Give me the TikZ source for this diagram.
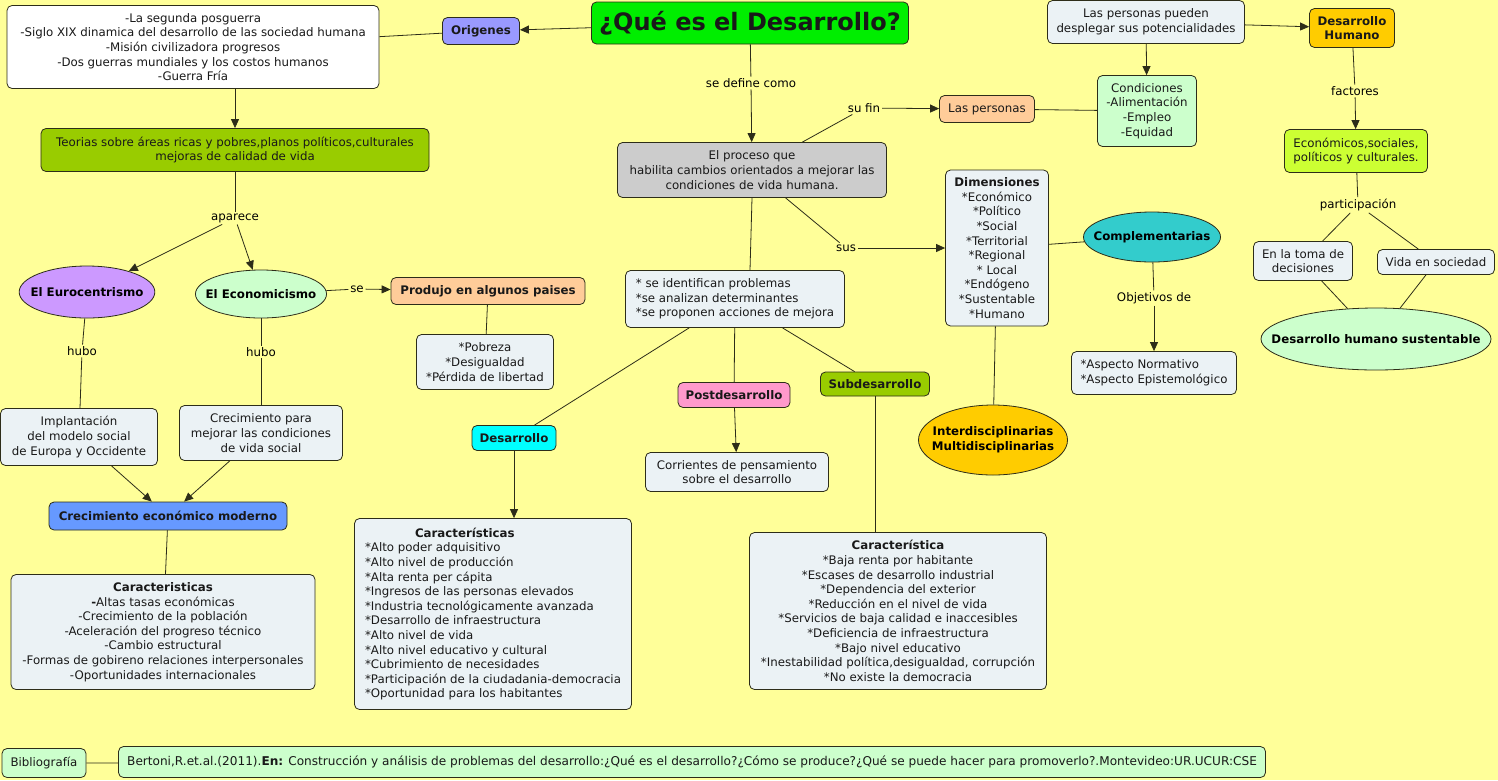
\documentclass[tikz,border=0pt]{standalone}
\usepackage{fontspec}
\setmainfont{DejaVu Sans}
\usetikzlibrary{arrows.meta,shapes.geometric}

\definecolor{fondo}{RGB}{255,255,153}
\definecolor{linea}{RGB}{45,45,25}
\definecolor{palido}{RGB}{235,242,245}
\definecolor{verdetit}{RGB}{0,238,0}
\definecolor{lavanda}{RGB}{153,153,255}
\definecolor{oliva}{RGB}{153,204,0}
\definecolor{lila}{RGB}{204,153,255}
\definecolor{menta}{RGB}{204,255,204}
\definecolor{durazno}{RGB}{255,204,153}
\definecolor{azulrey}{RGB}{102,153,255}
\definecolor{gris}{RGB}{204,204,204}
\definecolor{oro}{RGB}{255,204,0}
\definecolor{lima}{RGB}{204,255,51}
\definecolor{turquesa}{RGB}{51,204,204}
\definecolor{celeste}{RGB}{0,255,255}
\definecolor{rosa}{RGB}{255,153,204}

\newcommand{\txt}{\fontsize{11.8}{14.6}\selectfont}

\begin{document}
\begin{tikzpicture}[x=1pt,y=-1pt,
  >={Triangle[length=9pt,width=8pt]},
  box/.style={draw,rounded corners=5pt,fill=palido,align=center,inner sep=0pt,
    font=\txt,text=black!90},
  hd/.style={box,font=\txt\bfseries},
  oval/.style={ellipse,draw,inner ysep=0pt,font=\txt\bfseries},
  lbl/.style={font=\txt,inner sep=1.5pt},
  dims/.style 2 args={minimum width=#1pt,minimum height=#2pt},
  every path/.style={draw=linea,line width=0.8pt}]
\fill[fondo,draw=none] (0,0) rectangle (1498,780);
\path[use as bounding box,draw=none] (0,0) rectangle (1498,780);

% centro
\node[box,dims={317}{42},fill=verdetit,font=\fontsize{24}{28}\selectfont\bfseries]
  (titulo) at (750,23) {¿Qué es el Desarrollo?};
\node[lbl] (sedef) at (751,83) {se define como};
\node[box,dims={269}{55},fill=gris] (proceso) at (752,170)
  {El proceso que\\habilita cambios orientados a mejorar las\\condiciones de vida humana.};
\node[lbl] (sufin) at (864,108) {su fin};
\node[box,dims={95}{27},fill=durazno] (personas) at (987,109) {Las personas};
\node[box,dims={197}{43}] (pueden) at (1146,22)
  {Las personas pueden\\desplegar sus potencialidades};
\node[box,dims={99}{71},fill=menta] (condic) at (1147,111)
  {Condiciones\\-Alimentación\\-Empleo\\-Equidad};
\node[lbl] (sus) at (846,248) {sus};
\node[box,dims={103}{156}] (dim) at (997,248)
  {\textbf{Dimensiones}\\*Económico\\*Político\\*Social\\*Territorial\\*Regional\\* Local\\*Endógeno\\*Sustentable\\*Humano};
\node[oval,dims={137}{50},inner xsep=-10.5pt,fill=turquesa] (compl) at (1152,237) {Complementarias};
\node[lbl] (objet) at (1154,298) {Objetivos de};
\node[box,dims={165}{43},align=left] (aspecto) at (1154,373)
  {*Aspecto Normativo\\*Aspecto Epistemológico};
\node[oval,dims={149}{70},inner xsep=-8.5pt,fill=oro,align=center] (interd) at (993,440)
  {Interdisciplinarias\\Multidisciplinarias};
\node[box,dims={219}{57},align=left] (ident) at (735,299)
  {* se identifican problemas\\*se analizan determinantes\\*se proponen acciones de mejora};
\node[hd,dims={84}{25},fill=celeste] (desa) at (514,438) {Desarrollo};
\node[hd,dims={112}{25},fill=rosa] (post) at (734,395) {Postdesarrollo};
\node[hd,dims={109}{24},fill=oliva] (sub) at (875,384) {Subdesarrollo};
\node[box,dims={183}{39}] (corr) at (737,472)
  {Corrientes de pensamiento\\sobre el desarrollo};
\node[box,dims={277}{191},align=left] (carD) at (493,614)
  {\hspace*{50pt}\textbf{Características}\\*Alto poder adquisitivo\\*Alto nivel de producción\\*Alta renta per cápita\\*Ingresos de las personas elevados\\*Industria tecnológicamente avanzada\\*Desarrollo de infraestructura\\*Alto nivel de vida\\*Alto nivel educativo y cultural\\*Cubrimiento de necesidades\\*Participación de la ciudadania-democracia\\*Oportunidad para los habitantes};
\node[box,dims={297}{157}] (carS) at (898,611)
  {\textbf{Característica}\\*Baja renta por habitante\\*Escases de desarrollo industrial\\*Dependencia del exterior\\*Reducción en el nivel de vida\\*Servicios de baja calidad e inaccesibles\\*Deficiencia de infraestructura\\*Bajo nivel educativo\\*Inestabilidad política,desigualdad, corrupción\\*No existe la democracia};

% derecha
\node[hd,dims={85}{39},fill=oro] (dh) at (1352,28) {Desarrollo\\Humano};
\node[lbl] (factores) at (1355,91) {factores};
\node[box,dims={143}{43},fill=lima] (econs) at (1356,151)
  {Económicos,sociales,\\políticos y culturales.};
\node[lbl] (particip) at (1358,205) {participación};
\node[box,dims={99}{39}] (toma) at (1303,261) {En la toma de\\decisiones};
\node[box,dims={117}{25}] (vida) at (1436,262) {Vida en sociedad};
\node[oval,dims={230}{62},inner xsep=-23.5pt,fill=menta] (dhs) at (1376,339) {Desarrollo humano sustentable};

% izquierda
\node[hd,dims={77}{27},fill=lavanda] (origenes) at (481,31) {Origenes};
\node[box,dims={372}{83},fill=white] (origlist) at (193,47)
  {-La segunda posguerra\\-Siglo XIX dinamica del desarrollo de las sociedad humana\\-Misión civilizadora progresos\\-Dos guerras mundiales y los costos humanos\\-Guerra Fría};
\node[box,dims={388}{43},fill=oliva] (teorias) at (235,150)
  {Teorias sobre áreas ricas y pobres,planos políticos,culturales\\mejoras de calidad de vida};
\node[lbl] (aparece) at (235,218) {aparece};
\node[oval,dims={134}{52},inner xsep=-8.5pt,fill=lila] (euro) at (87,292) {El Eurocentrismo};
\node[oval,dims={130}{48},inner xsep=-9pt,fill=menta] (econ) at (261,294) {El Economicismo};
\node[lbl] (se) at (357,289) {se};
\node[hd,dims={194}{27},fill=durazno] (produjo) at (488,291) {Produjo en algunos paises};
\node[box,dims={137}{55}] (pobreza) at (485,362)
  {*Pobreza\\*Desigualdad\\*Pérdida de libertad};
\node[lbl] (hubo1) at (82,351) {hubo};
\node[lbl] (hubo2) at (261,352) {hubo};
\node[box,dims={157}{57}] (implant) at (79,437)
  {Implantación\\del modelo social\\de Europa y Occidente};
\node[box,dims={163}{55}] (crecpara) at (261,433)
  {Crecimiento para\\mejorar las condiciones\\de vida social};
\node[hd,dims={238}{28},fill=azulrey] (cem) at (168,516) {Crecimiento económico moderno};
\node[box,dims={304}{115}] (carI) at (163,632)
  {\textbf{Caracteristicas}\\\textbf{-}Altas tasas económicas\\-Crecimiento de la población\\-Aceleración del progreso técnico\\-Cambio estructural\\-Formas de gobireno relaciones interpersonales\\-Oportunidades internacionales};
\node[box,dims={84}{29},fill=menta] (biblio) at (44,763) {Bibliografía};
\node[box,dims={1147}{31},fill=menta,font=\fontsize{12.1}{14}\selectfont] (bertoni) at (692,762)
  {Bertoni,R.et.al.(2011).\textbf{En:} Construcción y análisis de problemas del desarrollo:¿Qué es el desarrollo?¿Cómo se produce?¿Qué se puede hacer para promoverlo?.Montevideo:UR.UCUR:CSE};

% conectores
\draw[->] (titulo) -- (origenes);
\draw (origenes) -- (origlist);
\draw[->] (teorias |- origlist.south) -- (teorias);
\draw (teorias) -- (aparece);
\draw[->] (aparece) -- (euro);
\draw[->] (aparece) -- (econ);
\draw (euro) -- (hubo1);
\draw (hubo1) -- (implant);
\draw (econ) -- (hubo2);
\draw (hubo2) -- (crecpara);
\draw (econ) -- (se);
\draw[->] (se) -- (produjo);
\draw (produjo) -- (pobreza);
\draw[->] (implant) -- (cem);
\draw[->] (crecpara) -- (cem);
\draw (cem) -- (carI);
\draw (biblio) -- (bertoni);

\draw (titulo) -- (sedef);
\draw[->] (sedef) -- (proceso);
\draw (proceso) -- (sufin);
\draw[->] (sufin) -- (personas);
\draw (personas) -- (condic);
\draw[->] (pueden) -- (condic);
\draw[->] (pueden) -- (dh);
\draw (dh) -- (factores);
\draw[->] (factores) -- (econs);
\draw (econs) -- (particip);
\draw (particip) -- (toma);
\draw (particip) -- (vida);
\draw (toma) -- (dhs);
\draw (vida) -- (dhs);
\draw (proceso) -- (sus);
\draw[->] (sus) -- (dim);
\draw (dim) -- (compl);
\draw (compl) -- (objet);
\draw[->] (objet) -- (aspecto);
\draw (dim) -- (interd);
\draw (proceso.south) -- ([xshift=15pt]ident.north);
\draw (ident) -- (desa);
\draw[->] (desa) -- (desa |- carD.north);
\draw (ident) -- (post);
\draw[->] (post) -- (corr);
\draw (ident) -- (sub);
\draw (sub) -- (sub |- carS.north);
\end{tikzpicture}
\end{document}
